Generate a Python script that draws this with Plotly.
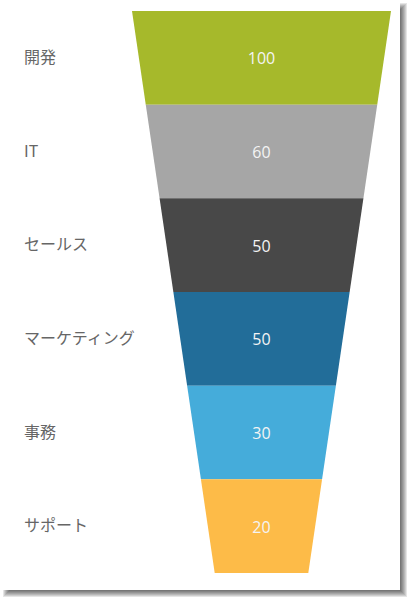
import plotly.graph_objects as go

# funnel stages and values
stages = ["開発", "IT", "セールス", "マーケティング", "事務", "サポート"]
values = [100, 60, 50, 50, 30, 20]
colors = ["#a6b92b", "#a6a6a6", "#484848", "#226d99", "#45acda", "#fdbb48"]

W, H = 415, 606
# fixed funnel shape (pixels): does not encode values, like the source widget
top, bottom = 11, 573
cx = 261.5
half_top, half_bottom = 129.5, 46.8
n = len(stages)
seg_h = (bottom - top) / n


def half_width(y):
    return half_top + (half_bottom - half_top) * (y - top) / (bottom - top)


fig = go.Figure()

for i, (name, color) in enumerate(zip(stages, colors)):
    y0 = top + i * seg_h
    y1 = y0 + seg_h
    w0, w1 = half_width(y0), half_width(y1)
    fig.add_trace(go.Scatter(
        x=[cx - w0, cx + w0, cx + w1, cx - w1, cx - w0],
        y=[y0, y0, y1, y1, y0],
        mode="lines", fill="toself", fillcolor=color,
        line=dict(width=0), hoverinfo="skip", showlegend=False,
    ))

centers = [top + (i + 0.5) * seg_h for i in range(n)]

fig.add_trace(go.Scatter(
    x=[cx] * n, y=[c + 2.5 for c in centers], text=[str(v) for v in values],
    mode="text", textposition="middle center",
    textfont=dict(family="Open Sans, sans-serif", size=16, color="#f4f4f4"),
    hoverinfo="skip", showlegend=False,
))
fig.add_trace(go.Scatter(
    x=[24] * n, y=[c + 1 for c in centers], text=stages,
    mode="text", textposition="middle right",
    textfont=dict(family="Noto Sans CJK JP, sans-serif", size=16, color="#666666"),
    hoverinfo="skip", showlegend=False,
))

# panel with soft drop shadow
shapes = []
for d in range(7):
    shapes.append(dict(type="rect", xref="x", yref="y", layer="below",
                       x0=3 + d, y0=3 + d, x1=407 - d, y1=597 - d,
                       fillcolor="rgba(0,0,0,0.1)", line=dict(width=0)))
shapes.append(dict(type="rect", xref="x", yref="y", layer="below",
                   x0=0, y0=0, x1=400, y1=590,
                   fillcolor="white", line=dict(width=0)))

fig.update_layout(
    width=W, height=H,
    margin=dict(l=0, r=0, t=0, b=0),
    paper_bgcolor="white", plot_bgcolor="white",
    xaxis=dict(range=[0, W], visible=False, fixedrange=True),
    yaxis=dict(range=[H, 0], visible=False, fixedrange=True),
    shapes=shapes,
    showlegend=False,
)

fig.write_html("out.html", config={"displayModeBar": False},
               post_script="document.body.style.margin='0';"
                           "document.body.style.overflow='hidden';")
